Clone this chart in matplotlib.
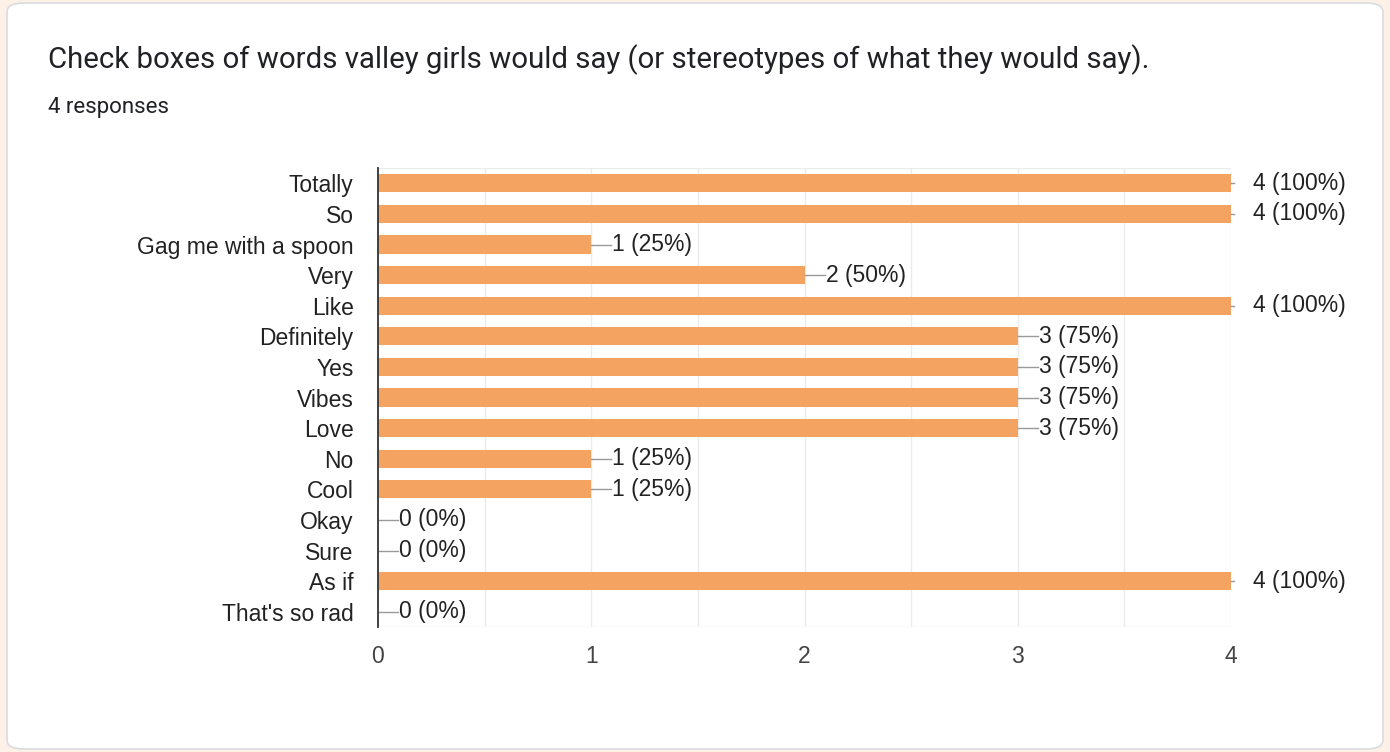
import matplotlib
matplotlib.use("Agg")
import matplotlib.pyplot as plt
from matplotlib.patches import FancyBboxPatch
import numpy as np

categories = ["Totally", "So", "Gag me with a spoon", "Very", "Like", "Definitely", "Yes",
              "Vibes", "Love", "No", "Cool", "Okay", "Sure", "As if", "That's so rad"]
counts = [4, 4, 1, 2, 4, 3, 3, 3, 3, 1, 1, 0, 0, 4, 0]
total_responses = 4
xticks = [0, 1, 2, 3, 4]

W, H = 1390, 752
fig = plt.figure(figsize=(W / 100, H / 100), dpi=100)
fig.patch.set_facecolor("#fdf1e7")

card = FancyBboxPatch((7 / W, 3 / H), (W - 14) / W, (H - 6) / H,
                      boxstyle="round,pad=0,rounding_size=0.012",
                      transform=fig.transFigure, facecolor="white",
                      edgecolor="#dadce0", linewidth=1.2, zorder=-5)
fig.patches.append(card)

fig.text(48 / W, 1 - 60 / H, "Check boxes of words valley girls would say (or stereotypes of what they would say).",
         fontsize=21.2, family="Roboto", color="#202124", va="center", ha="left")
fig.text(48 / W, 1 - 108 / H, f"{total_responses} responses",
         fontsize=16, family="Roboto", color="#202124", va="center", ha="left")

left, right, top, bottom = 378, 1231, 168, 627
ax = fig.add_axes([left / W, 1 - bottom / H, (right - left) / W, (bottom - top) / H])
ax.set_zorder(2)
ax.set_facecolor("white")

n = len(categories)
y = np.arange(n)
ax.barh(y, counts, height=0.6, color="#f4a460", zorder=2)
ax.set_xlim(0, 4)
ax.set_ylim(n - 0.5, -0.5)

for xv in np.arange(0.5, 4.01, 0.5):
    ax.axvline(xv, color="#ebebeb", linewidth=1, zorder=1)
ax.axhline(-0.5, color="#ebebeb", linewidth=1, zorder=1)
ax.axhline(n - 0.5, color="#ebebeb", linewidth=1, zorder=1)

for spine in ["top", "right", "bottom"]:
    ax.spines[spine].set_visible(False)
ax.spines["left"].set_color("#333333")
ax.spines["left"].set_linewidth(1.3)
ax.spines["left"].set_zorder(3)

ax.set_yticks(y)
ax.set_yticklabels(categories, fontsize=16.5, family="Liberation Sans", color="#222222")
ax.tick_params(axis="y", length=0, pad=17.5)
ax.set_xticks(xticks)
ax.set_xticklabels([str(t) for t in xticks], fontsize=16.5, family="Liberation Sans", color="#444444")
ax.tick_params(axis="x", length=0, pad=13)

unit = 4 / (right - left)
for yi, c in zip(y, counts):
    pct = round(100 * c / total_responses)
    x0 = c
    if c == 4:
        ax.plot([x0, x0 + 3 * unit], [yi, yi], color="#999999", lw=1, clip_on=False, zorder=3)
        tx = x0 + 22 * unit
    else:
        ax.plot([x0, x0 + 20 * unit], [yi, yi], color="#999999", lw=1, clip_on=False, zorder=3)
        tx = x0 + 21 * unit
    ax.text(tx, yi, f"{c} ({pct}%)", va="center", ha="left", fontsize=16.5,
            family="Liberation Sans", color="#222222", clip_on=False, zorder=4)

fig.savefig("out.png", dpi=100, facecolor=fig.get_facecolor())
